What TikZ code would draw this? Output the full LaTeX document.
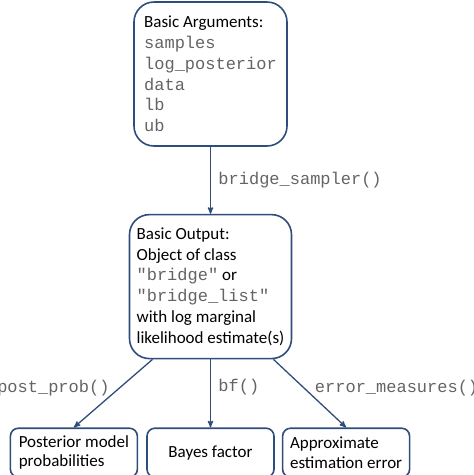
\documentclass[tikz,border=0pt]{standalone}
\usepackage{fontspec}
\setmainfont{Carlito}
\setmonofont{Liberation Mono}
\usetikzlibrary{arrows, positioning}
\definecolor{boxblue}{RGB}{47,77,122}
\definecolor{codegray}{RGB}{100,100,100}
\newcommand{\fn}[1]{{\ttfamily\color{codegray}#1}}

\begin{document}
\begin{tikzpicture}[x=1pt,y=1pt,->,>=stealth',shorten >=0pt,auto,
  line width=1.3pt,draw=boxblue,
  big box/.style={draw=boxblue,line width=1.6pt,rounded corners=20pt,align=left,
    minimum height=144pt,font=\fontsize{17}{20.8}\selectfont},
  small box/.style={draw=boxblue,line width=1.6pt,rounded corners=8pt,align=left,
    minimum width=127pt,minimum height=49pt,font=\fontsize{17}{19.5}\selectfont}]
  \useasboundingbox (0,0) rectangle (474,-475);
  \node[big box,minimum width=153pt] (args) at (210.5,-74)
    {Basic Arguments:\\ \fn{samples}\\ \fn{log\_posterior}\\ \fn{data}\\ \fn{lb}\\ \fn{ub}};
  \node[big box,minimum width=162pt] (out) [below=67pt of args]
    {Basic Output:\\ Object of class\\ \fn{"bridge"} or\\ \fn{"bridge\_list"}\\ with log marginal\\ likelihood estimate(s)};
  \node[small box] (bayes) [below=68pt of out] {Bayes factor};
  \node[small box] (post) [left=8pt of bayes]
    {Posterior model\\ probabilities};
  \node[small box] (err) [right=7pt of bayes]
    {Approximate\\ estimation error};
  \path[every node/.style={font=\fontsize{17}{17}\ttfamily,text=codegray}]
    (args) edge node [right,xshift=4pt] {bridge\_sampler()} (out)
    ([xshift=-58pt]out.south) edge node [left,pos=0.42,xshift=-6pt] {post\_prob()} (post.north)
    (out.south) edge node [right,pos=0.4,xshift=4pt] {bf()} (bayes.north)
    ([xshift=63pt]out.south) edge node [right,pos=0.42,xshift=7pt] {error\_measures()} (err.north);
\end{tikzpicture}
\end{document}
